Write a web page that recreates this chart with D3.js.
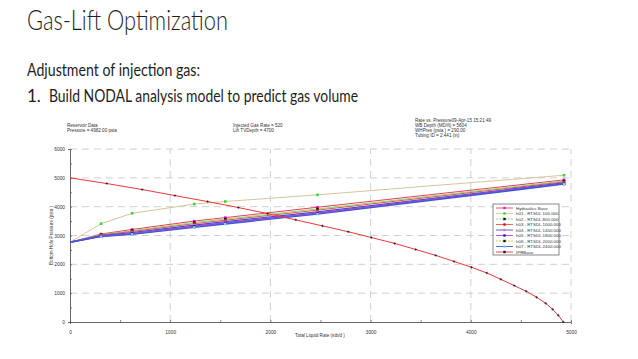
<!DOCTYPE html>
<html><head><meta charset="utf-8">
<script src="https://cdn.jsdelivr.net/npm/d3@7"></script>
<style>body{margin:0;background:#fff}svg{display:block}</style>
</head><body>
<script>
// ---- data ----
const vlpRates = [0, 310, 620, 1240, 1550, 2470, 4930];
const seriesNames = ["Hydraulics Base","h01 - RTSDL 100.000","h02 - RTSDL 800.000","h03 - RTSDL 1000.000","h04 - RTSDL 1400.000","h05 - RTSDL 1800.000","h06 - RTSDL 2000.000","h07 - RTSDL 2400.000"];
const hydraulicsBase = [2767, 3050, 3210, 3500, 3620, 3980, 4930];
const h01 = [2767, 3410, 3770, 4090, 4180, 4410, 5090];
const h02 = [2767, 3030, 3170, 3450, 3570, 3920, 4890];
const h03 = [2767, 3015, 3140, 3410, 3530, 3880, 4860];
const h04 = [2767, 2995, 3100, 3360, 3480, 3820, 4820];
const h05 = [2767, 2980, 3070, 3320, 3440, 3780, 4800];
const h06 = [2767, 2970, 3055, 3300, 3420, 3760, 4790];
const h07 = [2767, 2960, 3040, 3280, 3400, 3740, 4780];
const iprRates = [0, 367, 720, 1047, 1373, 1680, 1973, 2253, 2520, 2777, 3007, 3240, 3450, 3650, 3833, 4007, 4160, 4300, 4433, 4553, 4657, 4747, 4817, 4873, 4923];
const iprPress = [5000, 4802, 4594, 4385, 4177, 3969, 3760, 3542, 3333, 3130, 2930, 2725, 2515, 2310, 2100, 1898, 1700, 1481, 1262, 1065, 856, 648, 440, 232, 0];
const xTicks = [0, 1000, 2000, 3000, 4000, 5000];
const yTicks = [0, 1000, 2000, 3000, 4000, 5000, 6000];

const lineColors = ["#ee3a5a","#d8c49a","#7ee07e","#e05a3a","#3050e0","#b040d0","#c8d040","#3a5ad8"];
const markerColors = ["#e020e0","#33dd33","#111111","#c8102e","#e87aa0","#1a1aa0","#111111","#8cc8f0"];
const vlpData = [hydraulicsBase,h01,h02,h03,h04,h05,h06,h07];

const W = 638, H = 359;
const svg = d3.select("body").append("svg").attr("width", W).attr("height", H);

// ---- slide text ----
const txt = "#1e1e1e";
svg.append("text").attr("x", 27).attr("y", 30).attr("font-family","Lato").attr("font-weight",300)
  .attr("font-size", 27).attr("fill", txt).attr("textLength", 201).attr("lengthAdjust","spacingAndGlyphs")
  .text("Gas-Lift Optimization");
svg.append("text").attr("x", 27).attr("y", 76).attr("font-family","Lato").attr("font-size", 17)
  .attr("fill", txt).attr("textLength", 173).attr("lengthAdjust","spacingAndGlyphs").text("Adjustment of injection gas:");
svg.append("text").attr("x", 27).attr("y", 102).attr("font-family","Lato").attr("font-size", 17)
  .attr("fill", txt).text("1.");
svg.append("text").attr("x", 49).attr("y", 102).attr("font-family","Lato").attr("font-size", 17)
  .attr("fill", txt).attr("textLength", 309).attr("lengthAdjust","spacingAndGlyphs")
  .text("Build NODAL analysis model to predict gas volume");

// ---- chart ----
const x = d3.scaleLinear().domain([0, 5000]).range([70, 571]);
const y = d3.scaleLinear().domain([0, 6000]).range([322, 149]);
const g = svg.append("g");
const small = {"font-family":"Liberation Sans","font-size":4.6,"fill":"#333"};
function stxt(sel){ for (const k in small) sel.attr(k, small[k]); return sel; }

// header info
const info = [
  [67,127,"Reservoir Data"],[67,132,"Pressure = 4982.00 psia"],
  [233,127,"Injected Gas Rate =  520"],[233,132,"Lift TVDepth =  4700"],
  [415,122,"Rate vs. Pressure09-Apr-15 15:21:49"],[415,127,"WB Depth (MD/ft) =  5604"],
  [415,132,"WHPres (psia  ) =  290.00"],[415,137,"Tubing ID = 2.441 (in)"]
];
info.forEach(d => stxt(g.append("text").attr("x", d[0]).attr("y", d[1])).text(d[2]));

// grid
g.selectAll(".hg").data(yTicks.filter(v => v > 0)).join("line")
  .attr("x1", x(0)).attr("x2", x(5000)).attr("y1", d => y(d)).attr("y2", d => y(d))
  .attr("stroke", "#c4c4c4").attr("stroke-width", 0.8).attr("stroke-dasharray", "7,5");
g.selectAll(".vg").data(xTicks.filter(v => v > 0)).join("line")
  .attr("x1", d => x(d)).attr("x2", d => x(d)).attr("y1", y(0)).attr("y2", y(6000))
  .attr("stroke", "#c4c4c4").attr("stroke-width", 0.8).attr("stroke-dasharray", "7,5");

// axes
const xAxis = d3.axisBottom(x).tickValues(d3.range(0, 5001, 500)).tickSize(2)
  .tickFormat(d => xTicks.includes(d) ? d : "");
const yAxis = d3.axisLeft(y).tickValues(d3.range(0, 6001, 500)).tickSize(2)
  .tickFormat(d => yTicks.includes(d) ? d : "");
const ax = g.append("g").attr("transform", `translate(0,${y(0)})`).call(xAxis);
const ay = g.append("g").attr("transform", `translate(${x(0)},0)`).call(yAxis);
[ax, ay].forEach(a => {
  a.select(".domain").attr("stroke", "#555").attr("stroke-width", 0.9);
  a.selectAll(".tick line").attr("stroke", "#555").attr("stroke-width", 0.7);
  a.selectAll("text").attr("font-family", "Liberation Sans").attr("font-size", 4.8).attr("fill", "#333");
});
ax.selectAll(".tick line").attr("y2", -2);
ax.selectAll("text").attr("dy", "1.5em");
ay.selectAll(".tick line").attr("x2", 2);

stxt(g.append("text").attr("x", 320).attr("y", 337).attr("text-anchor","middle")).text("Total Liquid Rate (stb/d  )");
stxt(g.append("text").attr("transform", `translate(53,${y(3000)}) rotate(-90)`).attr("text-anchor","middle"))
  .text("Bottom Hole Pressure (psia  )");

// VLP curves
const line = d3.line().x(d => x(d[0])).y(d => y(d[1]));
const order = [1,0,2,3,6,4,5,7];
order.forEach(i => {
  const pts = vlpRates.map((r, j) => [r, vlpData[i][j]]);
  g.append("path").attr("d", line(pts)).attr("fill", "none")
    .attr("stroke", lineColors[i]).attr("stroke-width", i >= 4 ? 1.4 : 1);
});
order.forEach(i => {
  const pts = vlpRates.map((r, j) => [r, vlpData[i][j]]).slice(1);
  g.selectAll(null).data(pts).join("rect")
    .attr("x", d => x(d[0]) - 1.3).attr("y", d => y(d[1]) - 1.3)
    .attr("width", 2.6).attr("height", 2.6).attr("fill", markerColors[i]);
});

// IPR
const ipr = iprRates.map((r, j) => [r, iprPress[j]]);
g.append("path").attr("d", line(ipr)).attr("fill", "none").attr("stroke", "#e8383a").attr("stroke-width", 1);
g.selectAll(null).data(ipr.slice(1)).join("path")
  .attr("d", d => `M${x(d[0]) - 1.2},${y(d[1])}h2.4M${x(d[0])},${y(d[1]) - 1.2}v2.4`)
  .attr("stroke", "#222").attr("stroke-width", 0.8);

// legend
const lg = g.append("g").attr("transform", "translate(493,204)");
lg.append("rect").attr("width", 66).attr("height", 51).attr("fill", "#fff").attr("stroke", "#555").attr("stroke-width", 0.7);
const legNames = seriesNames.concat(["IPRBase"]);
const legLine = lineColors.concat(["#e8383a"]);
const legMark = markerColors.concat(["#222"]);
legNames.forEach((n, i) => {
  const yy = 4 + i * 5.5;
  lg.append("line").attr("x1", 3).attr("x2", 20).attr("y1", yy).attr("y2", yy)
    .attr("stroke", legLine[i]).attr("stroke-width", 0.9)
    .attr("stroke-dasharray", i === 6 || i === 2 ? "2,1" : null);
  lg.append("rect").attr("x", 10.3).attr("y", yy - 1.2).attr("width", 2.4).attr("height", 2.4).attr("fill", legMark[i]);
  stxt(lg.append("text").attr("x", 23).attr("y", yy + 1.6)).attr("font-size", 4.4).text(n);
});
</script>
</body></html>
